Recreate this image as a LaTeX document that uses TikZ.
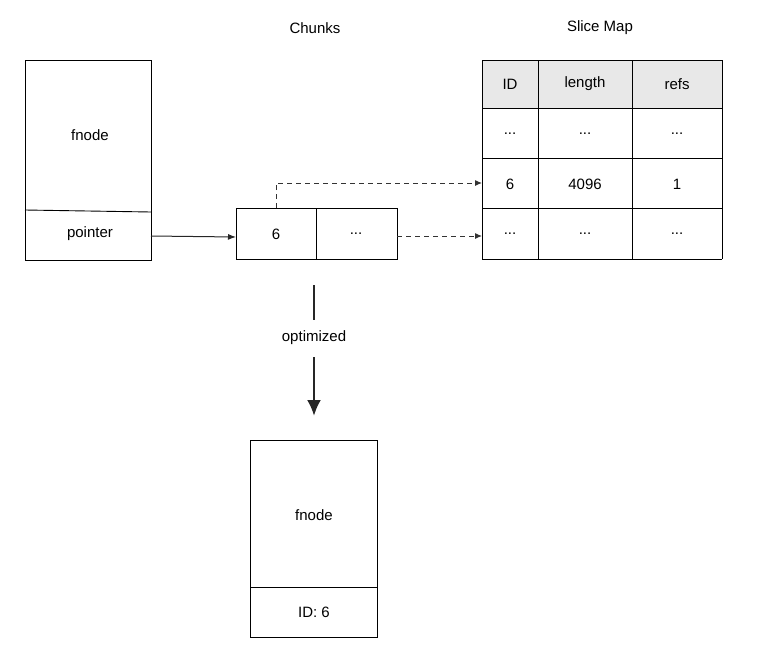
\documentclass[tikz,border=0pt]{standalone}
\usepackage{fontspec}
\setmainfont{Liberation Sans}
\usetikzlibrary{arrows.meta}
\begin{document}
\begin{tikzpicture}[x=1pt,y=-1pt,font=\fontsize{15}{18}\selectfont,
  box/.style={draw=black,line width=0.9pt},
  lbl/.style={inner sep=0pt,anchor=center},
  dasharr/.style={draw=black!80,line width=1pt,dash pattern=on 5pt off 4pt,-{Latex[length=7pt,width=6pt]}}]
\useasboundingbox (0,0) rectangle (767,669);
% left fnode
\draw[box] (25,60) rectangle (151,260);
\draw[box] (25,210) -- (151,212);
\node[lbl] (f1) at (90,135) {fnode};
\node[lbl] (ptr) at (90,234) {pointer};
\coordinate (ptrR) at (151,236);
% chunks
\node[lbl] (chunks) at (315,28) {Chunks};
\fill[white] (236,208) rectangle (397,259);
\draw[box] (236,208) rectangle (397,259);
\draw[box] (316,208) -- (316,259);
\node[lbl] (c6) at (276,234) {6};
\node[lbl] (cdots) at (356,234) {...};
\coordinate (c6top) at (276,208);
\coordinate (cL) at (236,237);
\coordinate (cR) at (397,236);
% slice map
\node[lbl] (sm) at (600,28) {Slice Map};
\fill[black!9] (482,60) rectangle (722,108);
\foreach \y in {60,108,158,208,259} \draw[box] (482,\y) -- (722,\y);
\foreach \x in {482,538,632,722} \draw[box] (\x,60) -- (\x,259);
\node[lbl] (h1) at (510,84) {ID};
\node[lbl] (h2) at (585,84) {length};
\node[lbl] (h3) at (677,84) {refs};
\node[lbl] (r11) at (510,134) {...};
\node[lbl] (r12) at (585,134) {...};
\node[lbl] (r13) at (677,134) {...};
\node[lbl] (r21) at (510,184) {6};
\node[lbl] (r22) at (585,184) {4096};
\node[lbl] (r23) at (677,184) {1};
\node[lbl] (r31) at (510,234) {...};
\node[lbl] (r32) at (585,234) {...};
\node[lbl] (r33) at (677,234) {...};
\coordinate (row6L) at (482,183);
\coordinate (row3L) at (482,236);
% connectors
\draw[black!85,line width=1pt,-{Latex[length=8pt,width=6pt]}] (ptrR) -- (cL);
\draw[dasharr] (c6top) -- (276,183) -- (row6L);
\draw[dasharr] (cR) -- (row3L);
% optimized
\node[lbl] (opt) at (314,338) {optimized};
\coordinate (o1) at (314,285);
\coordinate (o2) at (314,320);
\coordinate (o3) at (314,357);
\coordinate (o4) at (314,416);
\draw[line width=2.5pt,black!85] (o1) -- (o2);
\draw[line width=2.5pt,black!85,-{Latex[length=16pt,width=14pt]}] (o3) -- (o4);
% bottom fnode
\draw[box] (250,440) rectangle (377,637);
\draw[box] (250,587) -- (377,587);
\node[lbl] (f2) at (314,515) {fnode};
\node[lbl] (id6) at (314,612) {ID: 6};
\end{tikzpicture}
\end{document}
